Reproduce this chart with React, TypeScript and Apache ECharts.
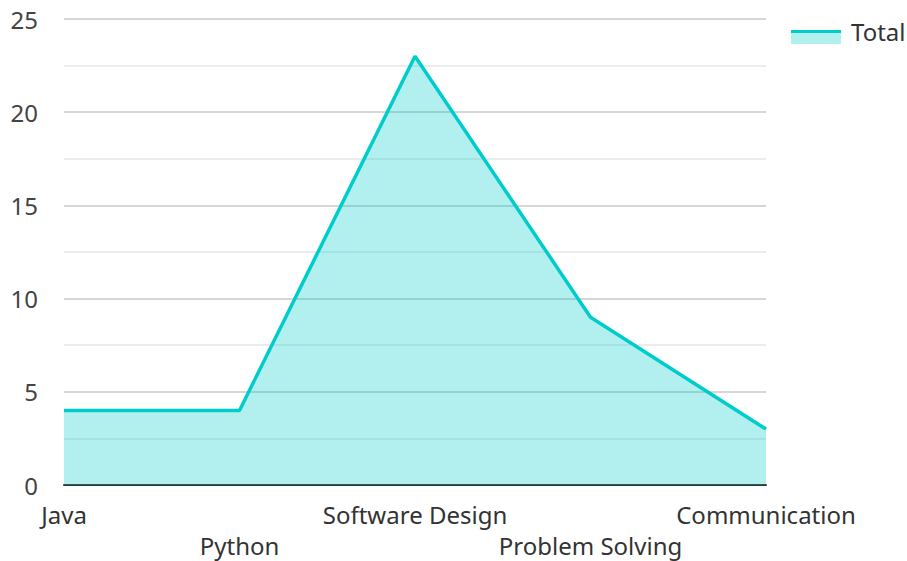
import React, { useEffect, useRef } from "react";
import * as echarts from "echarts";

const categories = ["Java", "Python", "Software Design", "Problem Solving", "Communication"];
const totals = [4, 4, 23, 9, 3];
const seriesName = "Total";

const LINE = "#00cccc";
const AREA = "#b2efef";
const FONT = "'Noto Sans', 'Open Sans', sans-serif";

export default function App() {
  const ref = useRef<HTMLDivElement>(null);
  useEffect(() => {
    if (!ref.current) return;
    const chart = echarts.init(ref.current, undefined, { renderer: "svg" });
    chart.setOption({
      animation: false,
      textStyle: { fontFamily: FONT },
      grid: { left: 64, right: 141, top: 19, bottom: 74 },
      legend: {
        data: [{ name: seriesName, icon: "rect" }],
        left: 791,
        top: 19,
        padding: 0,
        itemWidth: 50,
        itemHeight: 14,
        itemGap: 10,
        itemStyle: { color: "rgba(0,0,0,0)" },
        textStyle: { fontSize: 24, color: "#333", fontFamily: FONT, padding: [0, 0, 0, 5] },
      },
      graphic: [
        {
          type: "rect",
          z: 99,
          shape: { x: 791, y: 30, width: 50, height: 14 },
          style: { fill: AREA },
          silent: true,
        },
        {
          type: "line",
          z: 100,
          shape: { x1: 791, y1: 31.5, x2: 841, y2: 31.5 },
          style: { stroke: LINE, lineWidth: 3 },
          silent: true,
        },
      ],
      xAxis: {
        type: "category",
        data: categories,
        boundaryGap: false,
        axisLine: { show: true, lineStyle: { color: "#333", width: 2 } },
        axisTick: { show: false },
        axisLabel: {
          interval: 0,
          margin: 14,
          fontSize: 24,
          color: "#333",
          lineHeight: 31,
          fontFamily: FONT,
          formatter: (v: string, i: number) => (i % 2 === 1 ? "\n" + v : v),
        },
      },
      yAxis: {
        type: "value",
        min: 0,
        max: 25,
        interval: 5,
        axisLine: { show: false },
        axisTick: { show: false },
        axisLabel: { fontSize: 24, color: "#444", margin: 26, fontFamily: FONT },
        splitLine: { show: true, lineStyle: { color: "#c8c8c8", width: 1.5 } },
        minorTick: { show: false, splitNumber: 2 },
        minorSplitLine: { show: true, lineStyle: { color: "#e6e6e6", width: 1.5 } },
      },
      series: [
        {
          name: seriesName,
          type: "line",
          data: totals,
          symbol: "none",
          lineStyle: { color: LINE, width: 3.5 },
          itemStyle: { color: LINE },
          areaStyle: { color: "rgba(0,204,204,0.3)", opacity: 1 },
          z: 3,
        },
      ],
    });
    return () => chart.dispose();
  }, []);
  return <div ref={ref} style={{ width: 907, height: 561, position: "absolute", left: 0, top: 0 }} />;
}
